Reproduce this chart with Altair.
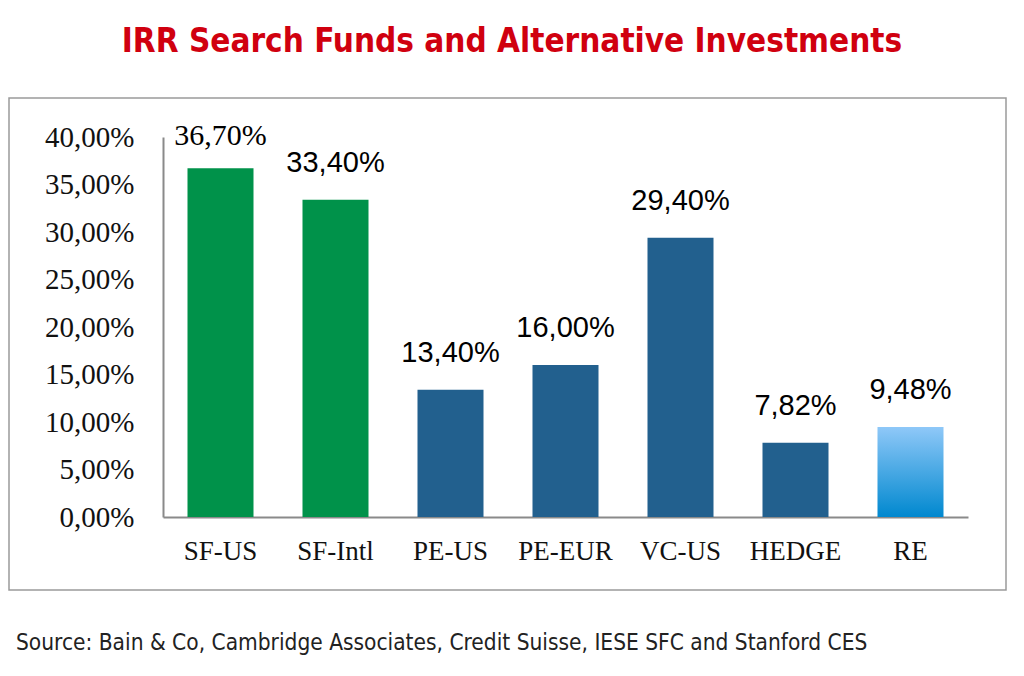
import altair as alt
import pandas as pd

categories = ["SF-US", "SF-Intl", "PE-US", "PE-EUR", "VC-US", "HEDGE", "RE"]
irr = [0.367, 0.334, 0.134, 0.160, 0.294, 0.0782, 0.0948]
groups = ["SF", "SF", "ALT", "ALT", "ALT", "ALT", "RE"]
y_ticks = [0, 0.05, 0.10, 0.15, 0.20, 0.25, 0.30, 0.35, 0.40]

title_text = "IRR Search Funds and Alternative Investments"
source_text = "Source: Bain & Co, Cambridge Associates, Credit Suisse, IESE SFC and Stanford CES"

df = pd.DataFrame({"cat": categories, "irr": irr, "grp": groups})

SERIF = "Liberation Serif"
SANS = "Liberation Sans"
NARROW = "DejaVu Sans Condensed"

x_enc = alt.X(
    "cat:N",
    sort=categories,
    scale=alt.Scale(paddingInner=0.426, paddingOuter=0.213),
    axis=alt.Axis(
        title=None, labelAngle=0, ticks=False, labelFont=SERIF, labelFontSize=27,
        labelColor="#111111", labelPadding=21, domainColor="#8a8a8a", domainWidth=2,
    ),
)
y_enc = alt.Y(
    "irr:Q",
    scale=alt.Scale(domain=[0, 0.40], nice=False),
    axis=alt.Axis(
        title=None, values=y_ticks, grid=False, ticks=False,
        labelExpr="replace(format(datum.value, '.2%'), '.', ',')",
        labelFont=SERIF, labelFontSize=29, labelColor="#111111", labelPadding=29,
        domainColor="#8a8a8a", domainWidth=2,
    ),
)

base = alt.Chart(df)

frame = alt.Chart(pd.DataFrame({"a": [0]})).mark_rect(
    fill=None, stroke="#9a9a9a", strokeWidth=1.5
).encode(x=alt.value(-154), x2=alt.value(843), y=alt.value(-39), y2=alt.value(453))

bars = base.transform_filter("datum.grp != 'RE'").mark_bar().encode(
    x=x_enc,
    y=y_enc,
    color=alt.Color("grp:N", scale=alt.Scale(domain=["SF", "ALT"], range=["#00924A", "#22608E"]), legend=None),
)

re_bar = base.transform_filter("datum.grp == 'RE'").mark_bar(
    color=alt.Gradient(
        gradient="linear", x1=0, y1=0, x2=0, y2=1,
        stops=[alt.GradientStop(offset=0, color="#8FC8F8"), alt.GradientStop(offset=1, color="#0088CF")],
    )
).encode(x=x_enc, y=y_enc)

lbl_calc = "replace(format(datum.irr, '.2%'), '.', ',')"

labels_sans = base.transform_filter("datum.cat != 'SF-US'").transform_calculate(
    lbl=lbl_calc
).mark_text(font=SANS, fontSize=29, baseline="alphabetic", dy=-28, color="#000000").encode(
    x=alt.X("cat:N", sort=categories), y="irr:Q", text="lbl:N"
)

labels_serif = base.transform_filter("datum.cat == 'SF-US'").transform_calculate(
    lbl=lbl_calc
).mark_text(font=SERIF, fontSize=30, baseline="alphabetic", dy=-23, color="#000000").encode(
    x=alt.X("cat:N", sort=categories), y="irr:Q", text="lbl:N"
)

title = alt.Chart(pd.DataFrame({"t": [title_text]})).mark_text(
    font=NARROW, fontSize=33, fontWeight="bold", align="center", baseline="alphabetic", color="#D0000F"
).encode(x=alt.value(349), y=alt.value(-85), text="t:N")

source = alt.Chart(pd.DataFrame({"s": [source_text]})).mark_text(
    font=NARROW, fontSize=22.5, align="left", baseline="alphabetic", color="#222222"
).encode(x=alt.value(-147), y=alt.value(513), text="s:N")

chart = alt.layer(frame, bars, re_bar, labels_sans, labels_serif, title, source).properties(
    width=805,
    height=380,
    autosize=alt.AutoSizeParams(type="none"),
    padding={"left": 155, "top": 129, "right": 48, "bottom": 143},
).configure_view(stroke=None)

chart.save("out.html", embed_options={"renderer": "svg", "actions": False})
